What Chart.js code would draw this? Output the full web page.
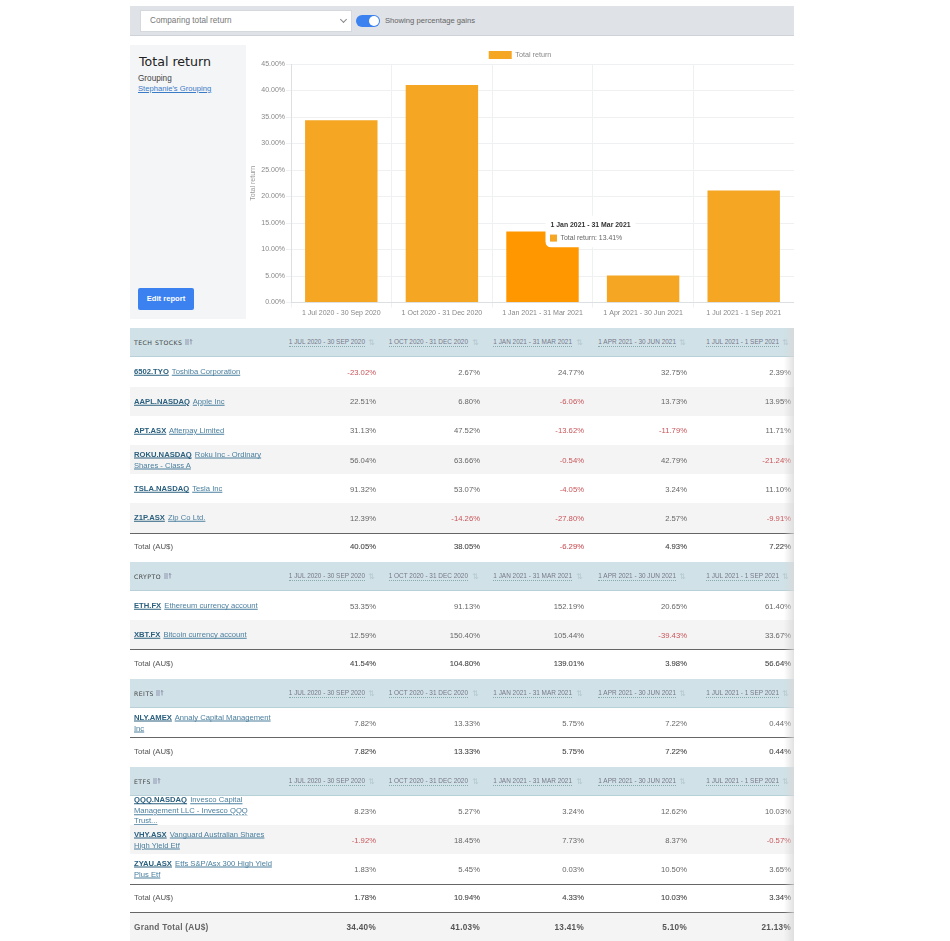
<!DOCTYPE html>
<html>
<head>
<meta charset="utf-8">
<title>Total return</title>
<script src="https://cdn.jsdelivr.net/npm/chart.js@4/dist/chart.umd.min.js"></script>
<style>
html, body { margin: 0; padding: 0; background: #fff; width: 950px; height: 941px; overflow: hidden; }
body { font-family: "Liberation Sans", Arial, sans-serif; color: #666; position: relative; }
#page { position: absolute; left: 0; top: 0; width: 950px; height: 941px; filter: blur(.35px); }
.abs { position: absolute; }
#topbar { left: 130px; top: 6px; width: 664px; height: 30px; background: #dfe2e7; border-bottom: 1px solid #cfd3d9; box-sizing: border-box; }
#select { left: 140px; top: 10px; width: 212px; height: 22px; background: #fff; border: 1px solid #d5d8dd; box-sizing: border-box; font-size: 8.2px; line-height: 19px; padding-left: 9px; color: #777; }
#chev { left: 341px; top: 17px; width: 4px; height: 4px; border-right: 1px solid #888; border-bottom: 1px solid #888; transform: rotate(45deg); }
#toggle { left: 356px; top: 15px; width: 24px; height: 12px; background: #3b82f0; border-radius: 6px; }
#knob { left: 369px; top: 16px; width: 10px; height: 10px; background: #fff; border-radius: 5px; }
#toggleText { left: 385px; top: 15px; font-size: 7.65px; line-height: 12px; color: #666; }
#panel { left: 130px; top: 45px; width: 116px; height: 274px; background: #f4f5f6; }
#heading { left: 139px; top: 54px; font-family: "DejaVu Sans", sans-serif; font-size: 12.6px; line-height: 16px; color: #222; }
#groupLabel { left: 138px; top: 74px; font-size: 8.2px; line-height: 10px; color: #444; }
#groupLink { left: 138px; top: 84px; font-size: 7.65px; line-height: 10px; color: #3a7bc8; text-decoration: underline; }
#edit { left: 138px; top: 288px; width: 56px; height: 22px; background: #3b82f0; border-radius: 2px; color: #fff; font-size: 7.6px; font-weight: bold; line-height: 22px; text-align: center; }
#chartBox { left: 246px; top: 45px; width: 548px; height: 274px; }
#tables { left: 130px; top: 0; width: 664px; height: 941px; }
.band { position: absolute; left: 0; width: 664px; box-sizing: border-box; }
.head { background: #d0e2e8; border-bottom: 1px solid #b8d0d8; }
.grey { background: #f4f4f4; }
.line { border-top: 1px solid #666; }
.cell { position: absolute; top: 50%; transform: translateY(-50%); font-size: 7.7px; white-space: nowrap; text-align: right; color: #666; }
.tot { color: #444; -webkit-text-stroke: .08px #444; top: calc(50% - 1.2px); }
.neg { color: #c9555a; }
.tot.neg { -webkit-text-stroke: .08px #c9555a; }
.name { position: absolute; left: 4px; top: calc(50% + .5px); transform: translateY(-50%); width: 138px; font-size: 7.65px; line-height: 10.5px; color: #3f7595; }
.name a { text-decoration: underline; color: #4a7f9e; }
.name b { text-decoration: underline; color: #2a5f7e; margin-right: 1px; }
.total { position: absolute; left: 4px; top: calc(50% - 1.2px); transform: translateY(-50%); font-size: 7.8px; color: #555; }
.gname { top: 50%; font-size: 8.3px; font-weight: bold; color: #666; letter-spacing: .25px; }
.gcell { font-size: 8.2px; font-weight: bold; color: #555; letter-spacing: .3px; }
.htitle { position: absolute; left: 4px; top: 50%; transform: translateY(-50%); font-family: "DejaVu Sans", sans-serif; font-size: 6.2px; color: #444; letter-spacing: .45px; white-space: nowrap; }
.hcell { position: absolute; top: 50%; transform: translateY(-50%); font-size: 6.45px; color: #778; border-bottom: 1px dotted #8aa; line-height: 9px; white-space: nowrap; }
.sort { position: absolute; top: 50%; transform: translateY(-50%); font-family: "DejaVu Sans", sans-serif; font-size: 8px; color: #b5c8cf; }
#fade { left: 784px; top: 328px; width: 10px; height: 613px; background: linear-gradient(to right, rgba(225,225,225,0), rgba(215,215,215,.75)); }
</style>
</head>
<body>
<div id="page">
<div id="topbar" class="abs"></div>
<div id="select" class="abs">Comparing total return</div>
<div id="chev" class="abs"></div>
<div id="toggle" class="abs"></div>
<div id="knob" class="abs"></div>
<div id="toggleText" class="abs">Showing percentage gains</div>
<div id="panel" class="abs"></div>
<div id="heading" class="abs">Total return</div>
<div id="groupLabel" class="abs">Grouping</div>
<div id="groupLink" class="abs">Stephanie's Grouping</div>
<div id="edit" class="abs">Edit report</div>
<div id="chartBox" class="abs"><canvas id="chart" width="548" height="274"></canvas></div>
<div id="tables" class="abs"></div>
<div id="fade" class="abs"></div>
</div>

<script>
const periods = ["1 Jul 2020 - 30 Sep 2020", "1 Oct 2020 - 31 Dec 2020", "1 Jan 2021 - 31 Mar 2021", "1 Apr 2021 - 30 Jun 2021", "1 Jul 2021 - 1 Sep 2021"];
const totalReturn = [34.40, 41.03, 13.41, 5.10, 21.13];
const yTicks = [0, 5, 10, 15, 20, 25, 30, 35, 40, 45];

const techRows = [
    ["6502.TYO", "Toshiba Corporation", ["-23.02%", "2.67%", "24.77%", "32.75%", "2.39%"]],
    ["AAPL.NASDAQ", "Apple Inc", ["22.51%", "6.80%", "-6.06%", "13.73%", "13.95%"]],
    ["APT.ASX", "Afterpay Limited", ["31.13%", "47.52%", "-13.62%", "-11.79%", "11.71%"]],
    ["ROKU.NASDAQ", "Roku Inc - Ordinary Shares - Class A", ["56.04%", "63.66%", "-0.54%", "42.79%", "-21.24%"]],
    ["TSLA.NASDAQ", "Tesla Inc", ["91.32%", "53.07%", "-4.05%", "3.24%", "11.10%"]],
    ["Z1P.ASX", "Zip Co Ltd.", ["12.39%", "-14.26%", "-27.80%", "2.57%", "-9.91%"]]
];
const techTotal = ["40.05%", "38.05%", "-6.29%", "4.93%", "7.22%"];

const cryptoRows = [
    ["ETH.FX", "Ethereum currency account", ["53.35%", "91.13%", "152.19%", "20.65%", "61.40%"]],
    ["XBT.FX", "Bitcoin currency account", ["12.59%", "150.40%", "105.44%", "-39.43%", "33.67%"]]
];
const cryptoTotal = ["41.54%", "104.80%", "139.01%", "3.98%", "56.64%"];

const reitRows = [
    ["NLY.AMEX", "Annaly Capital Management Inc", ["7.82%", "13.33%", "5.75%", "7.22%", "0.44%"]]
];
const reitTotal = ["7.82%", "13.33%", "5.75%", "7.22%", "0.44%"];

const etfRows = [
    ["QQQ.NASDAQ", "Invesco Capital Management LLC - Invesco QQQ Trust...", ["8.23%", "5.27%", "3.24%", "12.62%", "10.03%"]],
    ["VHY.ASX", "Vanguard Australian Shares High Yield Etf", ["-1.92%", "18.45%", "7.73%", "8.37%", "-0.57%"]],
    ["ZYAU.ASX", "Etfs S&P/Asx 300 High Yield Plus Etf", ["1.83%", "5.45%", "0.03%", "10.50%", "3.65%"]]
];
const etfTotal = ["1.78%", "10.94%", "4.33%", "10.03%", "3.34%"];
const grandTotal = ["34.40%", "41.03%", "13.41%", "5.10%", "21.13%"];

/* Table layout */
const tables = document.getElementById("tables");
const valueRight = [418, 314, 210, 107, 3];   // distance from right edge of table
const headRight = [429, 326, 222, 118, 15];
const sortLeft = [238, 342, 446, 549, 652];
const headH = 29.4;

function band(top, height, cls) {
    const div = document.createElement("div");
    div.className = "band " + cls;
    div.style.top = top + "px";
    div.style.height = height + "px";
    tables.appendChild(div);
    return div;
}

function addValues(div, values, cls) {
    values.forEach((v, i) => {
        const span = document.createElement("span");
        span.className = "cell " + cls + (v[0] === "-" ? " neg" : "");
        span.style.right = valueRight[i] + "px";
        span.textContent = v;
        div.appendChild(span);
    });
}

function addHead(top, title) {
    const div = band(top, headH, "head");
    div.innerHTML = `<span class="htitle">${title} <svg width="8" height="7" viewBox="0 0 8 7" style="vertical-align:-1px"><path d="M0 1.5h4M0 3.5h4M0 5.5h4M6 6V1M4.8 2.2 6 1l1.2 1.2" stroke="#668" stroke-width=".6" fill="none"/></svg></span>`;
    periods.forEach((p, i) => {
        const h = document.createElement("span");
        h.className = "hcell";
        h.style.right = headRight[i] + "px";
        h.textContent = p.toUpperCase();
        div.appendChild(h);
        const s = document.createElement("span");
        s.className = "sort";
        s.style.left = sortLeft[i] + "px";
        s.textContent = "⇅";
        div.appendChild(s);
    });
}

function addSection(top, title, rows, total, rowH) {
    addHead(top, title);
    let y = top + headH;
    rows.forEach((r, i) => {
        const div = band(y, rowH, i % 2 ? "grey" : "");
        div.innerHTML = `<div class="name"><b>${r[0]}</b> <a>${r[1].replace("&", "&amp;")}</a></div>`;
        addValues(div, r[2], "");
        y += rowH;
    });
    const t = band(y, rowH, "line");
    t.innerHTML = `<span class="total">Total (AU$)</span>`;
    addValues(t, total, "tot");
}

addSection(328, "TECH STOCKS", techRows, techTotal, 29.2);
addSection(562, "CRYPTO", cryptoRows, cryptoTotal, 29);
addSection(679, "REITS", reitRows, reitTotal, 29);
addSection(766.6, "ETFS", etfRows, etfTotal, 29.2);
const grand = band(912, 29, "grey line");
grand.innerHTML = `<span class="total gname">Grand Total (AU$)</span>`;
addValues(grand, grandTotal, "gcell");

/* Chart */
Chart.Tooltip.positioners.beside = function (items) {
    const el = items[0].element;
    return { x: el.x + 3, y: el.y };
};

/* Legend takes a fixed strip above the plot */
const legendStrip = {
    id: "legendStrip",
    beforeInit(chart) {
        const fit = chart.legend.fit;
        chart.legend.fit = function () {
            fit.call(this);
            this.height = 19;
        };
    }
};

const barColor = "#f5a623";
const chart = new Chart(document.getElementById("chart"), {
    type: "bar",
    plugins: [legendStrip],
    data: {
        labels: periods,
        datasets: [{
            label: "Total return",
            data: totalReturn,
            backgroundColor: barColor,
            hoverBackgroundColor: "#ff9800"
        }]
    },
    options: {
        responsive: false,
        animation: false,
        devicePixelRatio: 1,
        layout: { padding: 0 },
        plugins: {
            legend: {
                position: "top",
                labels: {
                    boxWidth: 23,
                    boxHeight: 8,
                    padding: 6,
                    color: "#888",
                    font: { family: "Liberation Sans", size: 7.2 }
                }
            },
            tooltip: {
                enabled: true,
                position: "beside",
                xAlign: "left",
                yAlign: "center",
                caretSize: 0,
                caretPadding: 0,
                backgroundColor: "#fff",
                titleColor: "#333",
                bodyColor: "#666",
                multiKeyBackground: barColor,
                titleFont: { family: "Liberation Sans", size: 6.9, weight: "bold" },
                bodyFont: { family: "Liberation Sans", size: 6.9 },
                cornerRadius: 6,
                padding: 5,
                titleMarginBottom: 5,
                boxWidth: 6,
                boxHeight: 6,
                boxPadding: 2,
                callbacks: {
                    label: ctx => `${ctx.dataset.label}: ${ctx.parsed.y.toFixed(2)}%`,
                    labelColor: () => ({ borderColor: barColor, backgroundColor: barColor, borderWidth: 1 })
                }
            }
        },
        scales: {
            x: {
                grid: { color: "#eef0f2", tickLength: 5 },
                border: { color: "#dde0e3" },
                ticks: { color: "#888", font: { family: "Liberation Sans", size: 7.05 }, maxRotation: 0, padding: 1 },
                afterFit: s => { s.height = 16.5; }
            },
            y: {
                min: 0,
                max: 45,
                grid: { color: "#eef0f2", tickLength: 5 },
                border: { color: "#dde0e3" },
                afterBuildTicks: s => { s.ticks = yTicks.map(v => ({ value: v })); },
                ticks: {
                    color: "#888",
                    font: { family: "Liberation Sans", size: 7 },
                    padding: 1,
                    callback: v => v.toFixed(2) + "%"
                },
                title: {
                    display: true,
                    text: "Total return",
                    color: "#999",
                    font: { family: "Liberation Sans", size: 7 },
                    padding: { top: 3, bottom: 0 }
                },
                afterFit: s => { s.width = 45; }
            }
        }
    }
});

/* Hovered third bar with its tooltip open */
const active = [{ datasetIndex: 0, index: 2 }];
chart.setActiveElements(active);
chart.tooltip.setActiveElements(active, { x: 0, y: 0 });
chart.update();
</script>
</body>
</html>
